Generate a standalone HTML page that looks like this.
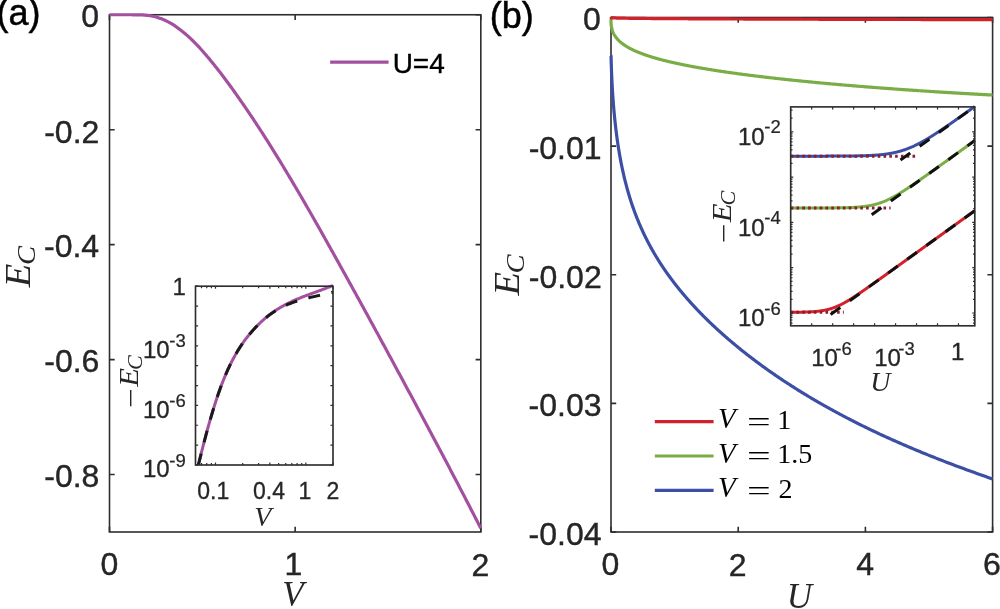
<!DOCTYPE html>
<html><head><meta charset="utf-8"><title>E_C plots</title>
<style>html,body{margin:0;padding:0;background:#fff;overflow:hidden}svg{display:block}</style>
</head><body>
<svg width="1000" height="609" viewBox="0 0 1000 609">
<rect x="0" y="0" width="1000" height="609" fill="#fff"/>
<rect x="109.5" y="14.75" width="371.3" height="517.25" fill="#fff" stroke="#2e2e2e" stroke-width="1.6"/>
<path d="M109.50,532.0 V526.80 M109.50,14.75 V19.95 M295.15,532.0 V526.80 M295.15,14.75 V19.95 M480.80,532.0 V526.80 M480.80,14.75 V19.95 M109.5,14.75 H114.70 M480.8,14.75 H475.60 M109.5,129.69 H114.70 M480.8,129.69 H475.60 M109.5,244.64 H114.70 M480.8,244.64 H475.60 M109.5,359.58 H114.70 M480.8,359.58 H475.60 M109.5,474.53 H114.70 M480.8,474.53 H475.60" stroke="#2e2e2e" stroke-width="1.6" fill="none"/>
<path d="M109.50,14.75 L110.43,14.75 L111.36,14.75 L112.29,14.75 L113.22,14.75 L114.15,14.75 L115.08,14.75 L116.01,14.75 L116.94,14.75 L117.88,14.75 L118.81,14.75 L119.74,14.75 L120.67,14.75 L121.60,14.75 L122.53,14.75 L123.46,14.75 L124.39,14.75 L125.32,14.75 L126.25,14.75 L127.18,14.75 L128.11,14.75 L129.04,14.76 L129.97,14.76 L130.90,14.77 L131.83,14.77 L132.76,14.78 L133.69,14.78 L134.63,14.79 L135.56,14.80 L136.49,14.81 L137.42,14.82 L138.35,14.83 L139.28,14.84 L140.21,14.85 L141.14,14.88 L142.07,14.92 L143.00,14.97 L143.93,15.04 L144.86,15.12 L145.79,15.21 L146.72,15.31 L147.65,15.41 L148.58,15.52 L149.51,15.64 L150.45,15.76 L151.38,15.91 L152.31,16.09 L153.24,16.30 L154.17,16.53 L155.10,16.78 L156.03,17.04 L156.96,17.32 L157.89,17.61 L158.82,17.91 L159.75,18.22 L160.68,18.53 L161.61,18.87 L162.54,19.23 L163.47,19.61 L164.40,20.02 L165.33,20.44 L166.27,20.88 L167.20,21.34 L168.13,21.81 L169.06,22.30 L169.99,22.79 L170.92,23.31 L171.85,23.87 L172.78,24.45 L173.71,25.05 L174.64,25.68 L175.57,26.33 L176.50,27.00 L177.43,27.68 L178.36,28.37 L179.29,29.07 L180.22,29.77 L181.15,30.49 L182.08,31.22 L183.02,31.98 L183.95,32.75 L184.88,33.54 L185.81,34.31 L186.74,35.10 L187.67,35.91 L188.60,36.74 L189.53,37.59 L190.46,38.45 L191.39,39.33 L192.32,40.23 L193.25,41.15 L194.18,42.09 L195.11,43.03 L196.04,43.99 L196.97,44.96 L197.90,45.94 L198.84,46.93 L199.77,47.93 L200.70,48.96 L201.63,50.00 L202.56,51.05 L203.49,52.11 L204.42,53.18 L205.35,54.26 L206.28,55.35 L207.21,56.44 L208.14,57.54 L209.07,58.65 L210.00,59.77 L210.93,60.90 L211.86,62.03 L212.79,63.18 L213.72,64.33 L214.66,65.48 L215.59,66.65 L216.52,67.82 L217.45,69.00 L218.38,70.19 L219.31,71.39 L220.24,72.59 L221.17,73.80 L222.10,75.02 L223.03,76.24 L223.96,77.47 L224.89,78.71 L225.82,79.95 L226.75,81.20 L227.68,82.46 L228.61,83.73 L229.54,85.00 L230.47,86.28 L231.41,87.56 L232.34,88.85 L233.27,90.15 L234.20,91.45 L235.13,92.76 L236.06,94.08 L236.99,95.40 L237.92,96.73 L238.85,98.06 L239.78,99.40 L240.71,100.73 L241.64,102.06 L242.57,103.40 L243.50,104.74 L244.43,106.09 L245.36,107.44 L246.29,108.80 L247.23,110.17 L248.16,111.54 L249.09,112.91 L250.02,114.30 L250.95,115.68 L251.88,117.07 L252.81,118.47 L253.74,119.87 L254.67,121.28 L255.60,122.69 L256.53,124.10 L257.46,125.52 L258.39,126.95 L259.32,128.38 L260.25,129.81 L261.18,131.25 L262.11,132.70 L263.05,134.14 L263.98,135.60 L264.91,137.05 L265.84,138.52 L266.77,139.98 L267.70,141.45 L268.63,142.93 L269.56,144.40 L270.49,145.89 L271.42,147.37 L272.35,148.86 L273.28,150.36 L274.21,151.86 L275.14,153.36 L276.07,154.86 L277.00,156.37 L277.93,157.89 L278.86,159.40 L279.80,160.92 L280.73,162.45 L281.66,163.98 L282.59,165.51 L283.52,167.04 L284.45,168.58 L285.38,170.12 L286.31,171.67 L287.24,173.21 L288.17,174.76 L289.10,176.32 L290.03,177.87 L290.96,179.44 L291.89,181.00 L292.82,182.56 L293.75,184.13 L294.68,185.71 L295.62,187.28 L296.55,188.86 L297.48,190.44 L298.41,192.02 L299.34,193.61 L300.27,195.20 L301.20,196.80 L302.13,198.40 L303.06,200.01 L303.99,201.62 L304.92,203.23 L305.85,204.84 L306.78,206.45 L307.71,208.07 L308.64,209.69 L309.57,211.31 L310.50,212.94 L311.44,214.56 L312.37,216.19 L313.30,217.82 L314.23,219.46 L315.16,221.09 L316.09,222.73 L317.02,224.37 L317.95,226.01 L318.88,227.65 L319.81,229.30 L320.74,230.94 L321.67,232.59 L322.60,234.24 L323.53,235.90 L324.46,237.55 L325.39,239.21 L326.32,240.87 L327.25,242.53 L328.19,244.19 L329.12,245.85 L330.05,247.51 L330.98,249.18 L331.91,250.85 L332.84,252.52 L333.77,254.19 L334.70,255.86 L335.63,257.54 L336.56,259.21 L337.49,260.89 L338.42,262.57 L339.35,264.25 L340.28,265.93 L341.21,267.60 L342.14,269.27 L343.07,270.94 L344.01,272.62 L344.94,274.29 L345.87,275.97 L346.80,277.65 L347.73,279.33 L348.66,281.01 L349.59,282.69 L350.52,284.37 L351.45,286.06 L352.38,287.74 L353.31,289.43 L354.24,291.12 L355.17,292.81 L356.10,294.50 L357.03,296.19 L357.96,297.88 L358.89,299.57 L359.83,301.26 L360.76,302.96 L361.69,304.65 L362.62,306.35 L363.55,308.05 L364.48,309.75 L365.41,311.44 L366.34,313.14 L367.27,314.85 L368.20,316.55 L369.13,318.25 L370.06,319.95 L370.99,321.66 L371.92,323.36 L372.85,325.07 L373.78,326.77 L374.71,328.48 L375.64,330.19 L376.58,331.90 L377.51,333.61 L378.44,335.32 L379.37,337.03 L380.30,338.74 L381.23,340.45 L382.16,342.17 L383.09,343.88 L384.02,345.59 L384.95,347.31 L385.88,349.03 L386.81,350.74 L387.74,352.46 L388.67,354.18 L389.60,355.90 L390.53,357.61 L391.46,359.33 L392.40,361.05 L393.33,362.78 L394.26,364.50 L395.19,366.22 L396.12,367.94 L397.05,369.67 L397.98,371.39 L398.91,373.12 L399.84,374.84 L400.77,376.57 L401.70,378.29 L402.63,380.02 L403.56,381.75 L404.49,383.48 L405.42,385.21 L406.35,386.94 L407.28,388.67 L408.22,390.40 L409.15,392.13 L410.08,393.87 L411.01,395.60 L411.94,397.33 L412.87,399.07 L413.80,400.80 L414.73,402.54 L415.66,404.28 L416.59,406.01 L417.52,407.75 L418.45,409.49 L419.38,411.23 L420.31,412.97 L421.24,414.71 L422.17,416.46 L423.10,418.20 L424.03,419.94 L424.97,421.69 L425.90,423.43 L426.83,425.18 L427.76,426.92 L428.69,428.67 L429.62,430.42 L430.55,432.17 L431.48,433.92 L432.41,435.67 L433.34,437.42 L434.27,439.17 L435.20,440.93 L436.13,442.68 L437.06,444.44 L437.99,446.19 L438.92,447.95 L439.85,449.71 L440.79,451.47 L441.72,453.23 L442.65,454.99 L443.58,456.75 L444.51,458.51 L445.44,460.28 L446.37,462.04 L447.30,463.81 L448.23,465.58 L449.16,467.35 L450.09,469.12 L451.02,470.89 L451.95,472.66 L452.88,474.43 L453.81,476.21 L454.74,477.99 L455.67,479.76 L456.61,481.54 L457.54,483.32 L458.47,485.10 L459.40,486.89 L460.33,488.67 L461.26,490.46 L462.19,492.24 L463.12,494.03 L464.05,495.82 L464.98,497.61 L465.91,499.41 L466.84,501.20 L467.77,503.00 L468.70,504.80 L469.63,506.60 L470.56,508.40 L471.49,510.20 L472.42,512.01 L473.36,513.81 L474.29,515.62 L475.22,517.43 L476.15,519.24 L477.08,521.06 L478.01,522.87 L478.94,524.69 L479.87,526.51 L480.80,528.33" stroke="#a2509f" stroke-width="3.2" fill="none" stroke-linejoin="round"/>
<path d="M330.1,62.1 H388.6" stroke="#a2509f" stroke-width="3.2"/>
<rect x="195.5" y="286.2" width="137.50" height="178.80" fill="#fff" stroke="none"/>
<defs><clipPath id="cia"><rect x="195.5" y="284.2" width="139.50" height="180.80"/></clipPath></defs>
<g clip-path="url(#cia)"><path d="M198.30,465.23 L198.87,462.90 L199.43,460.59 L199.99,458.30 L200.56,456.02 L201.12,453.75 L201.68,451.51 L202.25,449.28 L202.81,447.07 L203.37,444.87 L203.94,442.70 L204.50,440.54 L205.07,438.40 L205.63,436.28 L206.19,434.17 L206.76,432.09 L207.32,430.02 L207.88,427.98 L208.45,425.95 L209.01,423.95 L209.57,421.96 L210.14,419.99 L210.70,418.05 L211.26,416.13 L211.83,414.22 L212.39,412.34 L212.95,410.48 L213.52,408.64 L214.08,406.82 L214.65,405.03 L215.21,403.26 L215.77,401.51 L216.34,399.78 L216.90,398.08 L217.46,396.40 L218.03,394.74 L218.59,393.11 L219.15,391.50 L219.72,389.92 L220.28,388.36 L220.84,386.82 L221.41,385.31 L221.97,383.82 L222.53,382.36 L223.10,380.92 L223.66,379.51 L224.22,378.12 L224.79,376.75 L225.35,375.40 L225.92,374.08 L226.48,372.77 L227.04,371.49 L227.61,370.23 L228.17,368.99 L228.73,367.77 L229.30,366.58 L229.86,365.40 L230.42,364.24 L230.99,363.10 L231.55,361.98 L232.11,360.87 L232.68,359.79 L233.24,358.72 L233.80,357.68 L234.37,356.65 L234.93,355.63 L235.50,354.63 L236.06,353.65 L236.62,352.69 L237.19,351.74 L237.75,350.81 L238.31,349.89 L238.88,348.98 L239.44,348.09 L240.00,347.22 L240.57,346.36 L241.13,345.51 L241.69,344.68 L242.26,343.85 L242.82,343.04 L243.38,342.25 L243.95,341.46 L244.51,340.69 L245.07,339.93 L245.64,339.18 L246.20,338.44 L246.77,337.71 L247.33,336.99 L247.89,336.28 L248.46,335.57 L249.02,334.88 L249.58,334.20 L250.15,333.52 L250.71,332.86 L251.27,332.20 L251.84,331.55 L252.40,330.91 L252.96,330.27 L253.53,329.65 L254.09,329.03 L254.65,328.42 L255.22,327.81 L255.78,327.22 L256.35,326.63 L256.91,326.05 L257.47,325.47 L258.04,324.91 L258.60,324.35 L259.16,323.79 L259.73,323.25 L260.29,322.71 L260.85,322.18 L261.42,321.66 L261.98,321.14 L262.54,320.63 L263.11,320.12 L263.67,319.63 L264.23,319.13 L264.80,318.65 L265.36,318.17 L265.92,317.70 L266.49,317.23 L267.05,316.77 L267.62,316.32 L268.18,315.87 L268.74,315.43 L269.31,314.99 L269.87,314.56 L270.43,314.14 L271.00,313.72 L271.56,313.30 L272.12,312.89 L272.69,312.49 L273.25,312.09 L273.81,311.70 L274.38,311.31 L274.94,310.93 L275.50,310.56 L276.07,310.18 L276.63,309.82 L277.20,309.45 L277.76,309.10 L278.32,308.74 L278.89,308.39 L279.45,308.05 L280.01,307.71 L280.58,307.38 L281.14,307.05 L281.70,306.72 L282.27,306.40 L282.83,306.08 L283.39,305.76 L283.96,305.45 L284.52,305.15 L285.08,304.84 L285.65,304.55 L286.21,304.25 L286.77,303.96 L287.34,303.67 L287.90,303.39 L288.47,303.10 L289.03,302.83 L289.59,302.55 L290.16,302.28 L290.72,302.01 L291.28,301.75 L291.85,301.48 L292.41,301.22 L292.97,300.97 L293.54,300.71 L294.10,300.46 L294.66,300.21 L295.23,299.96 L295.79,299.72 L296.35,299.48 L296.92,299.24 L297.48,299.00 L298.05,298.76 L298.61,298.53 L299.17,298.30 L299.74,298.07 L300.30,297.84 L300.86,297.62 L301.43,297.39 L301.99,297.17 L302.55,296.95 L303.12,296.73 L303.68,296.51 L304.24,296.30 L304.81,296.08 L305.37,295.87 L305.93,295.65 L306.50,295.44 L307.06,295.23 L307.62,295.02 L308.19,294.81 L308.75,294.60 L309.32,294.40 L309.88,294.19 L310.44,293.98 L311.01,293.78 L311.57,293.57 L312.13,293.37 L312.70,293.16 L313.26,292.96 L313.82,292.75 L314.39,292.55 L314.95,292.34 L315.51,292.14 L316.08,291.93 L316.64,291.73 L317.20,291.52 L317.77,291.31 L318.33,291.11 L318.90,290.90 L319.46,290.69 L320.02,290.48 L320.59,290.27 L321.15,290.06 L321.71,289.85 L322.28,289.64 L322.84,289.43 L323.40,289.21 L323.97,289.00 L324.53,288.78 L325.09,288.57 L325.66,288.35 L326.22,288.13 L326.78,287.90 L327.35,287.68 L327.91,287.45 L328.47,287.23 L329.04,287.00 L329.60,286.77 L330.17,286.53 L330.73,286.30 L331.29,286.06 L331.86,285.82 L332.42,285.58 L332.98,285.34" stroke="#a2509f" stroke-width="3" fill="none"/>
<path d="M198.30,465.23 L198.87,462.90 L199.43,460.59 L199.99,458.30 L200.56,456.02 L201.12,453.75 L201.68,451.51 L202.25,449.28 L202.81,447.07 L203.37,444.87 L203.94,442.70 L204.50,440.54 L205.07,438.40 L205.63,436.28 L206.19,434.17 L206.76,432.09 L207.32,430.02 L207.88,427.98 L208.45,425.95 L209.01,423.95 L209.57,421.96 L210.14,419.99 L210.70,418.05 L211.26,416.13 L211.83,414.22 L212.39,412.34 L212.95,410.48 L213.52,408.64 L214.08,406.82 L214.65,405.03 L215.21,403.26 L215.77,401.51 L216.34,399.78 L216.90,398.08 L217.46,396.40 L218.03,394.74 L218.59,393.11 L219.15,391.50 L219.72,389.92 L220.28,388.36 L220.84,386.82 L221.41,385.31 L221.97,383.82 L222.53,382.36 L223.10,380.92 L223.66,379.51 L224.22,378.12 L224.79,376.75 L225.35,375.40 L225.92,374.08 L226.48,372.77 L227.04,371.49 L227.61,370.23 L228.17,368.99 L228.73,367.77 L229.30,366.58 L229.86,365.40 L230.42,364.24 L230.99,363.10 L231.55,361.98 L232.11,360.87 L232.68,359.79 L233.24,358.72 L233.80,357.68 L234.37,356.65 L234.93,355.63 L235.50,354.63 L236.06,353.65 L236.62,352.69 L237.19,351.74 L237.75,350.81 L238.31,349.89 L238.88,348.98 L239.44,348.09 L240.00,347.22 L240.57,346.36 L241.13,345.51 L241.69,344.68 L242.26,343.85 L242.82,343.04 L243.38,342.25 L243.95,341.46 L244.51,340.69 L245.07,339.93 L245.64,339.18 L246.20,338.44 L246.77,337.71 L247.33,336.99 L247.89,336.28 L248.46,335.57 L249.02,334.88 L249.58,334.20 L250.15,333.52 L250.71,332.86 L251.27,332.20 L251.84,331.55 L252.40,330.91 L252.96,330.27 L253.53,329.65 L254.09,329.03 L254.65,328.42 L255.22,327.81 L255.78,327.22 L256.35,326.63 L256.91,326.05 L257.47,325.47 L258.04,324.91 L258.60,324.35 L259.16,323.79 L259.73,323.25 L260.29,322.71 L260.85,322.18 L261.42,321.66 L261.98,321.14 L262.54,320.63 L263.11,320.12 L263.67,319.63 L264.23,319.13 L264.80,318.65 L265.36,318.17 L265.92,317.70 L266.49,317.24 L267.05,316.79 L267.62,316.34 L268.18,315.90 L268.74,315.47 L269.31,315.05 L269.87,314.63 L270.43,314.22 L271.00,313.82 L271.56,313.43 L272.12,313.04 L272.69,312.65 L273.25,312.28 L273.81,311.91 L274.38,311.54 L274.94,311.19 L275.50,310.83 L276.07,310.49 L276.63,310.15 L277.20,309.81 L277.76,309.49 L278.32,309.16 L278.89,308.85 L279.45,308.53 L280.01,308.23 L280.58,307.93 L281.14,307.63 L281.70,307.34 L282.27,307.05 L282.83,306.77 L283.39,306.49 L283.96,306.22 L284.52,305.96 L285.08,305.69 L285.65,305.44 L286.21,305.18 L286.77,304.93 L287.34,304.69 L287.90,304.45 L288.47,304.21 L289.03,303.98 L289.59,303.75 L290.16,303.53 L290.72,303.31 L291.28,303.09 L291.85,302.88 L292.41,302.67 L292.97,302.46 L293.54,302.26 L294.10,302.06 L294.66,301.87 L295.23,301.67 L295.79,301.48 L296.35,301.30 L296.92,301.11 L297.48,300.93 L298.05,300.76 L298.61,300.58 L299.17,300.41 L299.74,300.24 L300.30,300.07 L300.86,299.91 L301.43,299.75 L301.99,299.59 L302.55,299.43 L303.12,299.27 L303.68,299.12 L304.24,298.97 L304.81,298.82 L305.37,298.67 L305.93,298.52 L306.50,298.38 L307.06,298.24 L307.62,298.10 L308.19,297.96 L308.75,297.82 L309.32,297.68 L309.88,297.55 L310.44,297.41 L311.01,297.28 L311.57,297.15 L312.13,297.02 L312.70,296.88 L313.26,296.76 L313.82,296.63 L314.39,296.50 L314.95,296.37 L315.51,296.24 L316.08,296.12 L316.64,295.99 L317.20,295.86 L317.77,295.74 L318.33,295.61 L318.90,295.49 L319.46,295.36 L320.02,295.24 L320.59,295.11 L321.15,294.98 L321.71,294.86 L322.28,294.73 L322.84,294.60 L323.40,294.48 L323.97,294.35 L324.53,294.22 L325.09,294.09 L325.66,293.96 L326.22,293.83 L326.78,293.69 L327.35,293.56 L327.91,293.43 L328.47,293.29 L329.04,293.15 L329.60,293.01 L330.17,292.87 L330.73,292.73 L331.29,292.59 L331.86,292.45 L332.42,292.30 L332.98,292.15" stroke="#1a1a1a" stroke-width="3" fill="none" stroke-dasharray="12 11.6"/></g>
<path d="M195.5,286.20 H198.1 M333.0,286.20 H330.4 M195.5,306.07 H198.1 M333.0,306.07 H330.4 M195.5,325.93 H198.1 M333.0,325.93 H330.4 M195.5,345.80 H198.1 M333.0,345.80 H330.4 M195.5,365.67 H198.1 M333.0,365.67 H330.4 M195.5,385.53 H198.1 M333.0,385.53 H330.4 M195.5,405.40 H198.1 M333.0,405.40 H330.4 M195.5,425.27 H198.1 M333.0,425.27 H330.4 M195.5,445.13 H198.1 M333.0,445.13 H330.4 M195.5,465.00 H198.1 M333.0,465.00 H330.4 M201.51,465.0 V463.05 M201.51,286.2 V288.15 M206.75,465.0 V463.05 M206.75,286.2 V288.15 M211.37,465.0 V463.05 M211.37,286.2 V288.15 M215.50,465.0 V462.40 M215.50,286.2 V288.80 M242.68,465.0 V463.05 M242.68,286.2 V288.15 M258.58,465.0 V463.05 M258.58,286.2 V288.15 M269.87,465.0 V463.05 M269.87,286.2 V288.15 M278.62,465.0 V463.05 M278.62,286.2 V288.15 M285.77,465.0 V463.05 M285.77,286.2 V288.15 M291.81,465.0 V463.05 M291.81,286.2 V288.15 M297.05,465.0 V463.05 M297.05,286.2 V288.15 M301.67,465.0 V463.05 M301.67,286.2 V288.15 M305.80,465.0 V462.40 M305.80,286.2 V288.80 M332.98,465.0 V463.05 M332.98,286.2 V288.15 M269.87,465.0 V462.40 M269.87,286.2 V288.80 M332.98,465.0 V462.40 M332.98,286.2 V288.80" stroke="#2e2e2e" stroke-width="1.2" fill="none"/>
<rect x="195.5" y="286.2" width="137.50" height="178.80" fill="none" stroke="#2e2e2e" stroke-width="1.65"/>
<rect x="611.0" y="17.5" width="381.60" height="514.5" fill="#fff" stroke="#2e2e2e" stroke-width="1.6"/>
<path d="M611.00,532.0 V526.80 M611.00,17.5 V22.70 M738.20,532.0 V526.80 M738.20,17.5 V22.70 M865.40,532.0 V526.80 M865.40,17.5 V22.70 M992.60,532.0 V526.80 M992.60,17.5 V22.70 M611.0,17.50 H616.20 M992.6,17.50 H987.40 M611.0,146.12 H616.20 M992.6,146.12 H987.40 M611.0,274.75 H616.20 M992.6,274.75 H987.40 M611.0,403.37 H616.20 M992.6,403.37 H987.40 M611.0,532.00 H616.20 M992.6,532.00 H987.40" stroke="#2e2e2e" stroke-width="1.6" fill="none"/>
<defs><clipPath id="cb"><rect x="609.0" y="14.5" width="385.60" height="519.5"/></clipPath></defs>
<g clip-path="url(#cb)" fill="none" stroke-width="3.2" stroke-linejoin="round">
<path d="M611.00,55.90 L611.00,55.90 L611.00,55.90 L611.00,55.90 L611.00,55.90 L611.00,55.90 L611.00,55.90 L611.00,55.90 L611.00,55.90 L611.00,55.90 L611.00,55.90 L611.00,55.90 L611.01,55.90 L611.01,55.90 L611.01,55.90 L611.01,55.90 L611.01,55.90 L611.02,55.90 L611.02,55.90 L611.02,55.90 L611.02,55.90 L611.03,55.90 L611.03,55.90 L611.04,55.90 L611.04,55.90 L611.05,55.90 L611.05,55.90 L611.06,55.90 L611.07,56.08 L611.07,56.42 L611.08,56.78 L611.09,57.16 L611.10,57.56 L611.11,57.97 L611.12,58.40 L611.13,58.85 L611.14,59.32 L611.16,59.80 L611.17,60.30 L611.18,60.81 L611.20,61.34 L611.21,61.89 L611.23,62.45 L611.24,63.02 L611.26,63.61 L611.28,64.22 L611.30,64.84 L611.32,65.47 L611.34,66.11 L611.36,66.77 L611.38,67.44 L611.41,68.12 L611.43,68.81 L611.46,69.52 L611.48,70.24 L611.51,70.97 L611.54,71.71 L611.57,72.46 L611.60,73.22 L611.63,73.99 L611.66,74.77 L611.70,75.56 L611.73,76.36 L611.77,77.17 L611.81,77.99 L611.84,78.82 L611.88,79.66 L611.92,80.50 L611.97,81.36 L612.01,82.22 L612.05,83.09 L612.10,83.96 L612.15,84.85 L612.19,85.74 L612.24,86.64 L612.30,87.54 L612.35,88.45 L612.40,89.37 L612.46,90.30 L612.51,91.23 L612.57,92.16 L612.63,93.10 L612.69,94.05 L612.76,95.00 L612.82,95.96 L612.89,96.92 L612.95,97.89 L613.02,98.86 L613.09,99.84 L613.17,100.82 L613.24,101.80 L613.31,102.79 L613.39,103.79 L613.47,104.78 L613.55,105.78 L613.63,106.79 L613.72,107.79 L613.80,108.80 L613.89,109.81 L613.98,110.83 L614.07,111.85 L614.16,112.87 L614.26,113.89 L614.36,114.92 L614.45,115.95 L614.56,116.98 L614.66,118.01 L614.76,119.05 L614.87,120.08 L614.98,121.12 L615.09,122.16 L615.20,123.20 L615.31,124.25 L615.43,125.29 L615.55,126.33 L615.67,127.38 L615.79,128.43 L615.92,129.48 L616.05,130.53 L616.18,131.58 L616.31,132.63 L616.44,133.68 L616.58,134.73 L616.72,135.78 L616.86,136.84 L617.00,137.89 L617.14,138.94 L617.29,140.00 L617.44,141.05 L617.59,142.10 L617.75,143.16 L617.90,144.21 L618.06,145.26 L618.23,146.32 L618.39,147.37 L618.56,148.42 L618.73,149.47 L618.90,150.52 L619.07,151.58 L619.25,152.63 L619.43,153.68 L619.61,154.72 L619.79,155.77 L619.98,156.82 L620.17,157.87 L620.36,158.91 L620.56,159.96 L620.76,161.00 L620.96,162.05 L621.16,163.09 L621.37,164.13 L621.57,165.17 L621.79,166.21 L622.00,167.25 L622.22,168.28 L622.44,169.32 L622.66,170.35 L622.89,171.39 L623.11,172.42 L623.35,173.45 L623.58,174.48 L623.82,175.51 L624.06,176.53 L624.30,177.56 L624.55,178.58 L624.80,179.60 L625.05,180.62 L625.30,181.64 L625.56,182.66 L625.82,183.68 L626.09,184.69 L626.36,185.71 L626.63,186.72 L626.90,187.73 L627.18,188.74 L627.46,189.74 L627.74,190.75 L628.03,191.75 L628.32,192.76 L628.61,193.76 L628.91,194.76 L629.21,195.76 L629.51,196.75 L629.82,197.75 L630.13,198.74 L630.45,199.73 L630.76,200.72 L631.08,201.71 L631.41,202.70 L631.73,203.68 L632.07,204.67 L632.40,205.65 L632.74,206.63 L633.08,207.61 L633.42,208.58 L633.77,209.56 L634.12,210.53 L634.48,211.51 L634.84,212.48 L635.20,213.45 L635.57,214.42 L635.94,215.38 L636.31,216.35 L636.69,217.31 L637.07,218.27 L637.46,219.23 L637.85,220.19 L638.24,221.15 L638.64,222.11 L639.04,223.06 L639.44,224.01 L639.85,224.97 L640.26,225.92 L640.68,226.87 L641.10,227.81 L641.52,228.76 L641.95,229.71 L642.38,230.65 L642.82,231.59 L643.26,232.53 L643.70,233.47 L644.15,234.41 L644.60,235.35 L645.06,236.29 L645.52,237.22 L645.98,238.16 L646.45,239.09 L646.92,240.02 L647.40,240.95 L647.88,241.88 L648.37,242.81 L648.86,243.74 L649.35,244.66 L649.85,245.59 L650.35,246.51 L650.86,247.44 L651.37,248.36 L651.88,249.28 L652.40,250.20 L652.93,251.12 L653.46,252.04 L653.99,252.96 L654.53,253.87 L655.07,254.79 L655.61,255.70 L656.17,256.62 L656.72,257.53 L657.28,258.44 L657.84,259.36 L658.41,260.27 L658.99,261.18 L659.57,262.09 L660.15,263.00 L660.74,263.90 L661.33,264.81 L661.92,265.72 L662.53,266.63 L663.13,267.53 L663.74,268.44 L664.36,269.34 L664.98,270.25 L665.60,271.15 L666.23,272.05 L666.87,272.96 L667.51,273.86 L668.15,274.76 L668.80,275.66 L669.46,276.56 L670.12,277.46 L670.78,278.36 L671.45,279.26 L672.12,280.16 L672.80,281.06 L673.49,281.96 L674.18,282.86 L674.87,283.76 L675.57,284.66 L676.27,285.55 L676.98,286.45 L677.70,287.35 L678.42,288.24 L679.14,289.14 L679.87,290.04 L680.61,290.93 L681.35,291.83 L682.10,292.73 L682.85,293.62 L683.60,294.52 L684.36,295.41 L685.13,296.31 L685.90,297.21 L686.68,298.10 L687.46,299.00 L688.25,299.89 L689.05,300.79 L689.84,301.68 L690.65,302.58 L691.46,303.47 L692.27,304.37 L693.10,305.26 L693.92,306.16 L694.75,307.05 L695.59,307.95 L696.43,308.85 L697.28,309.74 L698.14,310.64 L699.00,311.53 L699.86,312.43 L700.73,313.32 L701.61,314.22 L702.49,315.12 L703.38,316.01 L704.28,316.91 L705.18,317.80 L706.08,318.70 L706.99,319.60 L707.91,320.49 L708.83,321.39 L709.76,322.29 L710.70,323.18 L711.64,324.08 L712.58,324.98 L713.54,325.87 L714.49,326.77 L715.46,327.67 L716.43,328.57 L717.40,329.46 L718.39,330.36 L719.37,331.26 L720.37,332.16 L721.37,333.06 L722.38,333.95 L723.39,334.85 L724.41,335.75 L725.43,336.65 L726.46,337.55 L727.50,338.45 L728.54,339.35 L729.59,340.25 L730.65,341.15 L731.71,342.05 L732.78,342.95 L733.85,343.84 L734.93,344.74 L736.02,345.64 L737.11,346.54 L738.21,347.44 L739.32,348.34 L740.43,349.24 L741.55,350.14 L742.68,351.04 L743.81,351.94 L744.95,352.84 L746.09,353.74 L747.24,354.64 L748.40,355.54 L749.57,356.44 L750.74,357.35 L751.91,358.25 L753.10,359.15 L754.29,360.05 L755.49,360.95 L756.69,361.85 L757.90,362.74 L759.12,363.64 L760.34,364.54 L761.57,365.44 L762.81,366.34 L764.06,367.24 L765.31,368.14 L766.57,369.04 L767.83,369.94 L769.10,370.84 L770.38,371.74 L771.67,372.63 L772.96,373.53 L774.26,374.43 L775.56,375.33 L776.88,376.22 L778.20,377.12 L779.52,378.02 L780.86,378.91 L782.20,379.81 L783.55,380.71 L784.90,381.60 L786.26,382.50 L787.63,383.39 L789.01,384.28 L790.39,385.18 L791.78,386.07 L793.18,386.96 L794.58,387.86 L796.00,388.75 L797.42,389.64 L798.84,390.53 L800.28,391.42 L801.72,392.31 L803.17,393.20 L804.62,394.09 L806.09,394.98 L807.56,395.86 L809.03,396.75 L810.52,397.64 L812.01,398.52 L813.51,399.41 L815.02,400.29 L816.53,401.17 L818.06,402.06 L819.59,402.94 L821.12,403.82 L822.67,404.70 L824.22,405.58 L825.78,406.46 L827.35,407.34 L828.93,408.21 L830.51,409.09 L832.10,409.97 L833.70,410.84 L835.30,411.71 L836.92,412.59 L838.54,413.46 L840.17,414.33 L841.80,415.20 L843.45,416.07 L845.10,416.94 L846.76,417.81 L848.43,418.67 L850.11,419.54 L851.79,420.40 L853.48,421.26 L855.18,422.13 L856.89,422.99 L858.60,423.85 L860.33,424.71 L862.06,425.57 L863.80,426.42 L865.55,427.28 L867.30,428.13 L869.06,428.99 L870.84,429.84 L872.62,430.69 L874.40,431.54 L876.20,432.39 L878.00,433.24 L879.82,434.08 L881.64,434.93 L883.47,435.77 L885.30,436.62 L887.15,437.46 L889.00,438.30 L890.86,439.14 L892.73,439.98 L894.61,440.82 L896.50,441.65 L898.39,442.49 L900.29,443.32 L902.21,444.15 L904.13,444.99 L906.06,445.82 L907.99,446.64 L909.94,447.47 L911.89,448.30 L913.85,449.12 L915.82,449.95 L917.80,450.77 L919.79,451.59 L921.79,452.42 L923.79,453.24 L925.81,454.05 L927.83,454.87 L929.86,455.69 L931.90,456.50 L933.95,457.32 L936.01,458.13 L938.07,458.94 L940.15,459.76 L942.23,460.57 L944.32,461.37 L946.42,462.18 L948.53,462.99 L950.65,463.80 L952.78,464.60 L954.91,465.41 L957.06,466.21 L959.21,467.01 L961.37,467.82 L963.55,468.62 L965.73,469.42 L967.92,470.22 L970.11,471.02 L972.32,471.82 L974.54,472.61 L976.76,473.41 L979.00,474.21 L981.24,475.01 L983.50,475.80 L985.76,476.60 L988.03,477.39 L990.31,478.19 L992.60,478.98" stroke="#3c4fa5"/>
<path d="M611.00,19.20 L611.00,19.32 L611.00,19.45 L611.00,19.58 L611.00,19.70 L611.00,19.83 L611.00,19.96 L611.00,20.09 L611.00,20.22 L611.00,20.36 L611.00,20.49 L611.00,20.62 L611.01,20.76 L611.01,20.89 L611.01,21.03 L611.01,21.16 L611.01,21.30 L611.02,21.44 L611.02,21.58 L611.02,21.72 L611.02,21.86 L611.03,22.00 L611.03,22.14 L611.04,22.28 L611.04,22.42 L611.05,22.57 L611.05,22.71 L611.06,22.85 L611.07,23.00 L611.07,23.14 L611.08,23.29 L611.09,23.44 L611.10,23.58 L611.11,23.73 L611.12,23.88 L611.13,24.03 L611.14,24.18 L611.16,24.33 L611.17,24.48 L611.18,24.63 L611.20,24.78 L611.21,24.93 L611.23,25.08 L611.24,25.23 L611.26,25.39 L611.28,25.54 L611.30,25.69 L611.32,25.85 L611.34,26.00 L611.36,26.16 L611.38,26.31 L611.41,26.47 L611.43,26.62 L611.46,26.78 L611.48,26.94 L611.51,27.09 L611.54,27.25 L611.57,27.41 L611.60,27.57 L611.63,27.73 L611.66,27.88 L611.70,28.04 L611.73,28.20 L611.77,28.36 L611.81,28.52 L611.84,28.68 L611.88,28.84 L611.92,29.01 L611.97,29.17 L612.01,29.33 L612.05,29.49 L612.10,29.65 L612.15,29.81 L612.19,29.98 L612.24,30.14 L612.30,30.30 L612.35,30.47 L612.40,30.63 L612.46,30.79 L612.51,30.96 L612.57,31.12 L612.63,31.28 L612.69,31.45 L612.76,31.61 L612.82,31.78 L612.89,31.94 L612.95,32.11 L613.02,32.27 L613.09,32.44 L613.17,32.60 L613.24,32.77 L613.31,32.94 L613.39,33.10 L613.47,33.27 L613.55,33.43 L613.63,33.60 L613.72,33.77 L613.80,33.93 L613.89,34.10 L613.98,34.27 L614.07,34.43 L614.16,34.60 L614.26,34.77 L614.36,34.94 L614.45,35.10 L614.56,35.27 L614.66,35.44 L614.76,35.61 L614.87,35.77 L614.98,35.94 L615.09,36.11 L615.20,36.28 L615.31,36.44 L615.43,36.61 L615.55,36.78 L615.67,36.95 L615.79,37.12 L615.92,37.28 L616.05,37.45 L616.18,37.62 L616.31,37.79 L616.44,37.96 L616.58,38.12 L616.72,38.29 L616.86,38.46 L617.00,38.63 L617.14,38.80 L617.29,38.96 L617.44,39.13 L617.59,39.30 L617.75,39.47 L617.90,39.64 L618.06,39.81 L618.23,39.97 L618.39,40.14 L618.56,40.31 L618.73,40.48 L618.90,40.65 L619.07,40.81 L619.25,40.98 L619.43,41.15 L619.61,41.32 L619.79,41.49 L619.98,41.65 L620.17,41.82 L620.36,41.99 L620.56,42.16 L620.76,42.32 L620.96,42.49 L621.16,42.66 L621.37,42.83 L621.57,42.99 L621.79,43.16 L622.00,43.33 L622.22,43.50 L622.44,43.66 L622.66,43.83 L622.89,44.00 L623.11,44.16 L623.35,44.33 L623.58,44.50 L623.82,44.66 L624.06,44.83 L624.30,45.00 L624.55,45.16 L624.80,45.33 L625.05,45.50 L625.30,45.66 L625.56,45.83 L625.82,45.99 L626.09,46.16 L626.36,46.33 L626.63,46.49 L626.90,46.66 L627.18,46.82 L627.46,46.99 L627.74,47.15 L628.03,47.32 L628.32,47.49 L628.61,47.65 L628.91,47.82 L629.21,47.98 L629.51,48.14 L629.82,48.31 L630.13,48.47 L630.45,48.64 L630.76,48.80 L631.08,48.97 L631.41,49.13 L631.73,49.30 L632.07,49.46 L632.40,49.62 L632.74,49.79 L633.08,49.95 L633.42,50.11 L633.77,50.28 L634.12,50.44 L634.48,50.60 L634.84,50.77 L635.20,50.93 L635.57,51.09 L635.94,51.26 L636.31,51.42 L636.69,51.58 L637.07,51.74 L637.46,51.91 L637.85,52.07 L638.24,52.23 L638.64,52.39 L639.04,52.55 L639.44,52.71 L639.85,52.88 L640.26,53.04 L640.68,53.20 L641.10,53.36 L641.52,53.52 L641.95,53.68 L642.38,53.84 L642.82,54.00 L643.26,54.16 L643.70,54.32 L644.15,54.49 L644.60,54.65 L645.06,54.81 L645.52,54.97 L645.98,55.13 L646.45,55.29 L646.92,55.45 L647.40,55.60 L647.88,55.76 L648.37,55.92 L648.86,56.08 L649.35,56.24 L649.85,56.40 L650.35,56.56 L650.86,56.72 L651.37,56.88 L651.88,57.04 L652.40,57.19 L652.93,57.35 L653.46,57.51 L653.99,57.67 L654.53,57.83 L655.07,57.98 L655.61,58.14 L656.17,58.30 L656.72,58.46 L657.28,58.61 L657.84,58.77 L658.41,58.93 L658.99,59.09 L659.57,59.24 L660.15,59.40 L660.74,59.56 L661.33,59.71 L661.92,59.87 L662.53,60.03 L663.13,60.18 L663.74,60.34 L664.36,60.50 L664.98,60.65 L665.60,60.81 L666.23,60.96 L666.87,61.12 L667.51,61.27 L668.15,61.43 L668.80,61.59 L669.46,61.74 L670.12,61.90 L670.78,62.05 L671.45,62.21 L672.12,62.36 L672.80,62.52 L673.49,62.67 L674.18,62.82 L674.87,62.98 L675.57,63.13 L676.27,63.29 L676.98,63.44 L677.70,63.60 L678.42,63.75 L679.14,63.90 L679.87,64.06 L680.61,64.21 L681.35,64.37 L682.10,64.52 L682.85,64.67 L683.60,64.83 L684.36,64.98 L685.13,65.13 L685.90,65.29 L686.68,65.44 L687.46,65.59 L688.25,65.75 L689.05,65.90 L689.84,66.05 L690.65,66.20 L691.46,66.36 L692.27,66.51 L693.10,66.66 L693.92,66.81 L694.75,66.97 L695.59,67.12 L696.43,67.27 L697.28,67.42 L698.14,67.57 L699.00,67.73 L699.86,67.88 L700.73,68.03 L701.61,68.18 L702.49,68.33 L703.38,68.48 L704.28,68.63 L705.18,68.79 L706.08,68.94 L706.99,69.09 L707.91,69.24 L708.83,69.39 L709.76,69.54 L710.70,69.69 L711.64,69.84 L712.58,69.99 L713.54,70.14 L714.49,70.30 L715.46,70.45 L716.43,70.60 L717.40,70.75 L718.39,70.90 L719.37,71.05 L720.37,71.20 L721.37,71.35 L722.38,71.50 L723.39,71.65 L724.41,71.80 L725.43,71.95 L726.46,72.10 L727.50,72.25 L728.54,72.40 L729.59,72.55 L730.65,72.70 L731.71,72.84 L732.78,72.99 L733.85,73.14 L734.93,73.29 L736.02,73.44 L737.11,73.59 L738.21,73.74 L739.32,73.89 L740.43,74.04 L741.55,74.19 L742.68,74.34 L743.81,74.48 L744.95,74.63 L746.09,74.78 L747.24,74.93 L748.40,75.08 L749.57,75.23 L750.74,75.37 L751.91,75.52 L753.10,75.67 L754.29,75.82 L755.49,75.97 L756.69,76.11 L757.90,76.26 L759.12,76.41 L760.34,76.56 L761.57,76.71 L762.81,76.85 L764.06,77.00 L765.31,77.15 L766.57,77.30 L767.83,77.44 L769.10,77.59 L770.38,77.74 L771.67,77.88 L772.96,78.03 L774.26,78.18 L775.56,78.32 L776.88,78.47 L778.20,78.62 L779.52,78.76 L780.86,78.91 L782.20,79.06 L783.55,79.20 L784.90,79.35 L786.26,79.50 L787.63,79.64 L789.01,79.79 L790.39,79.93 L791.78,80.08 L793.18,80.22 L794.58,80.37 L796.00,80.52 L797.42,80.66 L798.84,80.81 L800.28,80.95 L801.72,81.10 L803.17,81.24 L804.62,81.39 L806.09,81.53 L807.56,81.68 L809.03,81.82 L810.52,81.96 L812.01,82.11 L813.51,82.25 L815.02,82.40 L816.53,82.54 L818.06,82.68 L819.59,82.83 L821.12,82.97 L822.67,83.12 L824.22,83.26 L825.78,83.40 L827.35,83.54 L828.93,83.69 L830.51,83.83 L832.10,83.97 L833.70,84.12 L835.30,84.26 L836.92,84.40 L838.54,84.54 L840.17,84.68 L841.80,84.83 L843.45,84.97 L845.10,85.11 L846.76,85.25 L848.43,85.39 L850.11,85.53 L851.79,85.67 L853.48,85.81 L855.18,85.95 L856.89,86.09 L858.60,86.23 L860.33,86.37 L862.06,86.51 L863.80,86.65 L865.55,86.79 L867.30,86.93 L869.06,87.07 L870.84,87.21 L872.62,87.35 L874.40,87.49 L876.20,87.63 L878.00,87.76 L879.82,87.90 L881.64,88.04 L883.47,88.18 L885.30,88.31 L887.15,88.45 L889.00,88.59 L890.86,88.72 L892.73,88.86 L894.61,88.99 L896.50,89.13 L898.39,89.27 L900.29,89.40 L902.21,89.54 L904.13,89.67 L906.06,89.80 L907.99,89.94 L909.94,90.07 L911.89,90.21 L913.85,90.34 L915.82,90.47 L917.80,90.60 L919.79,90.74 L921.79,90.87 L923.79,91.00 L925.81,91.13 L927.83,91.26 L929.86,91.39 L931.90,91.52 L933.95,91.65 L936.01,91.78 L938.07,91.91 L940.15,92.04 L942.23,92.17 L944.32,92.30 L946.42,92.43 L948.53,92.55 L950.65,92.68 L952.78,92.81 L954.91,92.93 L957.06,93.06 L959.21,93.19 L961.37,93.31 L963.55,93.44 L965.73,93.56 L967.92,93.68 L970.11,93.81 L972.32,93.93 L974.54,94.05 L976.76,94.17 L979.00,94.30 L981.24,94.42 L983.50,94.54 L985.76,94.66 L988.03,94.78 L990.31,94.90 L992.60,95.02" stroke="#7bad47"/>
<path d="M611.00,17.51 L611.00,17.51 L611.00,17.52 L611.00,17.52 L611.00,17.52 L611.00,17.53 L611.00,17.53 L611.00,17.53 L611.00,17.54 L611.00,17.54 L611.00,17.55 L611.00,17.55 L611.01,17.55 L611.01,17.56 L611.01,17.56 L611.01,17.57 L611.01,17.57 L611.02,17.58 L611.02,17.58 L611.02,17.58 L611.02,17.59 L611.03,17.59 L611.03,17.60 L611.04,17.60 L611.04,17.61 L611.05,17.61 L611.05,17.61 L611.06,17.62 L611.07,17.62 L611.07,17.63 L611.08,17.63 L611.09,17.64 L611.10,17.64 L611.11,17.64 L611.12,17.65 L611.13,17.65 L611.14,17.66 L611.16,17.66 L611.17,17.67 L611.18,17.67 L611.20,17.67 L611.21,17.68 L611.23,17.68 L611.24,17.69 L611.26,17.69 L611.28,17.70 L611.30,17.70 L611.32,17.70 L611.34,17.71 L611.36,17.71 L611.38,17.72 L611.41,17.72 L611.43,17.73 L611.46,17.73 L611.48,17.74 L611.51,17.74 L611.54,17.74 L611.57,17.75 L611.60,17.75 L611.63,17.76 L611.66,17.76 L611.70,17.77 L611.73,17.77 L611.77,17.77 L611.81,17.78 L611.84,17.78 L611.88,17.79 L611.92,17.79 L611.97,17.80 L612.01,17.80 L612.05,17.80 L612.10,17.81 L612.15,17.81 L612.19,17.82 L612.24,17.82 L612.30,17.83 L612.35,17.83 L612.40,17.84 L612.46,17.84 L612.51,17.84 L612.57,17.85 L612.63,17.85 L612.69,17.86 L612.76,17.86 L612.82,17.87 L612.89,17.87 L612.95,17.87 L613.02,17.88 L613.09,17.88 L613.17,17.89 L613.24,17.89 L613.31,17.90 L613.39,17.90 L613.47,17.90 L613.55,17.91 L613.63,17.91 L613.72,17.92 L613.80,17.92 L613.89,17.93 L613.98,17.93 L614.07,17.94 L614.16,17.94 L614.26,17.94 L614.36,17.95 L614.45,17.95 L614.56,17.96 L614.66,17.96 L614.76,17.97 L614.87,17.97 L614.98,17.97 L615.09,17.98 L615.20,17.98 L615.31,17.99 L615.43,17.99 L615.55,18.00 L615.67,18.00 L615.79,18.00 L615.92,18.01 L616.05,18.01 L616.18,18.02 L616.31,18.02 L616.44,18.03 L616.58,18.03 L616.72,18.04 L616.86,18.04 L617.00,18.04 L617.14,18.05 L617.29,18.05 L617.44,18.06 L617.59,18.06 L617.75,18.07 L617.90,18.07 L618.06,18.07 L618.23,18.08 L618.39,18.08 L618.56,18.09 L618.73,18.09 L618.90,18.10 L619.07,18.10 L619.25,18.10 L619.43,18.11 L619.61,18.11 L619.79,18.12 L619.98,18.12 L620.17,18.13 L620.36,18.13 L620.56,18.14 L620.76,18.14 L620.96,18.14 L621.16,18.15 L621.37,18.15 L621.57,18.16 L621.79,18.16 L622.00,18.17 L622.22,18.17 L622.44,18.17 L622.66,18.18 L622.89,18.18 L623.11,18.19 L623.35,18.19 L623.58,18.20 L623.82,18.20 L624.06,18.21 L624.30,18.21 L624.55,18.21 L624.80,18.22 L625.05,18.22 L625.30,18.23 L625.56,18.23 L625.82,18.24 L626.09,18.24 L626.36,18.24 L626.63,18.25 L626.90,18.25 L627.18,18.26 L627.46,18.26 L627.74,18.27 L628.03,18.27 L628.32,18.27 L628.61,18.28 L628.91,18.28 L629.21,18.29 L629.51,18.29 L629.82,18.30 L630.13,18.30 L630.45,18.31 L630.76,18.31 L631.08,18.31 L631.41,18.32 L631.73,18.32 L632.07,18.33 L632.40,18.33 L632.74,18.34 L633.08,18.34 L633.42,18.34 L633.77,18.35 L634.12,18.35 L634.48,18.36 L634.84,18.36 L635.20,18.37 L635.57,18.37 L635.94,18.37 L636.31,18.38 L636.69,18.38 L637.07,18.39 L637.46,18.39 L637.85,18.40 L638.24,18.40 L638.64,18.41 L639.04,18.41 L639.44,18.41 L639.85,18.42 L640.26,18.42 L640.68,18.43 L641.10,18.43 L641.52,18.44 L641.95,18.44 L642.38,18.44 L642.82,18.45 L643.26,18.45 L643.70,18.46 L644.15,18.46 L644.60,18.47 L645.06,18.47 L645.52,18.47 L645.98,18.48 L646.45,18.48 L646.92,18.49 L647.40,18.49 L647.88,18.50 L648.37,18.50 L648.86,18.51 L649.35,18.51 L649.85,18.51 L650.35,18.52 L650.86,18.52 L651.37,18.53 L651.88,18.53 L652.40,18.54 L652.93,18.54 L653.46,18.54 L653.99,18.55 L654.53,18.55 L655.07,18.56 L655.61,18.56 L656.17,18.57 L656.72,18.57 L657.28,18.57 L657.84,18.58 L658.41,18.58 L658.99,18.59 L659.57,18.59 L660.15,18.60 L660.74,18.60 L661.33,18.61 L661.92,18.61 L662.53,18.61 L663.13,18.62 L663.74,18.62 L664.36,18.63 L664.98,18.63 L665.60,18.64 L666.23,18.64 L666.87,18.64 L667.51,18.65 L668.15,18.65 L668.80,18.66 L669.46,18.66 L670.12,18.67 L670.78,18.67 L671.45,18.67 L672.12,18.68 L672.80,18.68 L673.49,18.69 L674.18,18.69 L674.87,18.70 L675.57,18.70 L676.27,18.71 L676.98,18.71 L677.70,18.71 L678.42,18.72 L679.14,18.72 L679.87,18.73 L680.61,18.73 L681.35,18.74 L682.10,18.74 L682.85,18.74 L683.60,18.75 L684.36,18.75 L685.13,18.76 L685.90,18.76 L686.68,18.77 L687.46,18.77 L688.25,18.78 L689.05,18.78 L689.84,18.78 L690.65,18.79 L691.46,18.79 L692.27,18.80 L693.10,18.80 L693.92,18.81 L694.75,18.81 L695.59,18.81 L696.43,18.82 L697.28,18.82 L698.14,18.83 L699.00,18.83 L699.86,18.84 L700.73,18.84 L701.61,18.84 L702.49,18.85 L703.38,18.85 L704.28,18.86 L705.18,18.86 L706.08,18.87 L706.99,18.87 L707.91,18.88 L708.83,18.88 L709.76,18.88 L710.70,18.89 L711.64,18.89 L712.58,18.90 L713.54,18.90 L714.49,18.91 L715.46,18.91 L716.43,18.91 L717.40,18.92 L718.39,18.92 L719.37,18.93 L720.37,18.93 L721.37,18.94 L722.38,18.94 L723.39,18.94 L724.41,18.95 L725.43,18.95 L726.46,18.96 L727.50,18.96 L728.54,18.97 L729.59,18.97 L730.65,18.98 L731.71,18.98 L732.78,18.98 L733.85,18.99 L734.93,18.99 L736.02,19.00 L737.11,19.00 L738.21,19.01 L739.32,19.01 L740.43,19.01 L741.55,19.02 L742.68,19.02 L743.81,19.03 L744.95,19.03 L746.09,19.04 L747.24,19.04 L748.40,19.04 L749.57,19.05 L750.74,19.05 L751.91,19.06 L753.10,19.06 L754.29,19.07 L755.49,19.07 L756.69,19.08 L757.90,19.08 L759.12,19.08 L760.34,19.09 L761.57,19.09 L762.81,19.10 L764.06,19.10 L765.31,19.11 L766.57,19.11 L767.83,19.11 L769.10,19.12 L770.38,19.12 L771.67,19.13 L772.96,19.13 L774.26,19.14 L775.56,19.14 L776.88,19.14 L778.20,19.15 L779.52,19.15 L780.86,19.16 L782.20,19.16 L783.55,19.17 L784.90,19.17 L786.26,19.18 L787.63,19.18 L789.01,19.18 L790.39,19.19 L791.78,19.19 L793.18,19.20 L794.58,19.20 L796.00,19.21 L797.42,19.21 L798.84,19.21 L800.28,19.22 L801.72,19.22 L803.17,19.23 L804.62,19.23 L806.09,19.24 L807.56,19.24 L809.03,19.24 L810.52,19.25 L812.01,19.25 L813.51,19.26 L815.02,19.26 L816.53,19.27 L818.06,19.27 L819.59,19.28 L821.12,19.28 L822.67,19.28 L824.22,19.29 L825.78,19.29 L827.35,19.30 L828.93,19.30 L830.51,19.31 L832.10,19.31 L833.70,19.31 L835.30,19.32 L836.92,19.32 L838.54,19.33 L840.17,19.33 L841.80,19.34 L843.45,19.34 L845.10,19.35 L846.76,19.35 L848.43,19.35 L850.11,19.36 L851.79,19.36 L853.48,19.37 L855.18,19.37 L856.89,19.38 L858.60,19.38 L860.33,19.38 L862.06,19.39 L863.80,19.39 L865.55,19.40 L867.30,19.40 L869.06,19.41 L870.84,19.41 L872.62,19.41 L874.40,19.42 L876.20,19.42 L878.00,19.43 L879.82,19.43 L881.64,19.44 L883.47,19.44 L885.30,19.45 L887.15,19.45 L889.00,19.45 L890.86,19.46 L892.73,19.46 L894.61,19.47 L896.50,19.47 L898.39,19.48 L900.29,19.48 L902.21,19.48 L904.13,19.49 L906.06,19.49 L907.99,19.50 L909.94,19.50 L911.89,19.51 L913.85,19.51 L915.82,19.51 L917.80,19.52 L919.79,19.52 L921.79,19.53 L923.79,19.53 L925.81,19.54 L927.83,19.54 L929.86,19.55 L931.90,19.55 L933.95,19.55 L936.01,19.56 L938.07,19.56 L940.15,19.57 L942.23,19.57 L944.32,19.58 L946.42,19.58 L948.53,19.58 L950.65,19.59 L952.78,19.59 L954.91,19.60 L957.06,19.60 L959.21,19.61 L961.37,19.61 L963.55,19.61 L965.73,19.62 L967.92,19.62 L970.11,19.63 L972.32,19.63 L974.54,19.64 L976.76,19.64 L979.00,19.65 L981.24,19.65 L983.50,19.65 L985.76,19.66 L988.03,19.66 L990.31,19.67 L992.60,19.67" stroke="#d3212b"/>
</g>
<path d="M654.8,421.70 H713.6" stroke="#d3212b" stroke-width="3.2"/>
<path d="M654.8,456.00 H713.6" stroke="#7bad47" stroke-width="3.2"/>
<path d="M654.8,490.30 H713.6" stroke="#3c4fa5" stroke-width="3.2"/>
<rect x="790.7" y="106.9" width="184.10" height="218.90" fill="#fff" stroke="none"/>
<defs><clipPath id="cj"><rect x="790.7" y="104.9" width="186.10" height="220.90"/></clipPath></defs>
<g clip-path="url(#cj)" fill="none">
<path d="M790.70,156.15 L791.32,156.15 L791.93,156.15 L792.55,156.15 L793.16,156.15 L793.78,156.15 L794.39,156.15 L795.01,156.15 L795.63,156.15 L796.24,156.15 L796.86,156.15 L797.47,156.15 L798.09,156.15 L798.70,156.15 L799.32,156.15 L799.94,156.15 L800.55,156.15 L801.17,156.15 L801.78,156.15 L802.40,156.15 L803.01,156.15 L803.63,156.15 L804.25,156.15 L804.86,156.15 L805.48,156.15 L806.09,156.15 L806.71,156.15 L807.32,156.15 L807.94,156.15 L808.56,156.15 L809.17,156.15 L809.79,156.14 L810.40,156.14 L811.02,156.14 L811.63,156.14 L812.25,156.14 L812.87,156.14 L813.48,156.14 L814.10,156.14 L814.71,156.14 L815.33,156.14 L815.94,156.14 L816.56,156.14 L817.18,156.14 L817.79,156.14 L818.41,156.14 L819.02,156.14 L819.64,156.14 L820.25,156.13 L820.87,156.13 L821.49,156.13 L822.10,156.13 L822.72,156.13 L823.33,156.13 L823.95,156.13 L824.56,156.13 L825.18,156.13 L825.80,156.13 L826.41,156.12 L827.03,156.12 L827.64,156.12 L828.26,156.12 L828.87,156.12 L829.49,156.12 L830.11,156.11 L830.72,156.11 L831.34,156.11 L831.95,156.11 L832.57,156.11 L833.18,156.11 L833.80,156.10 L834.42,156.10 L835.03,156.10 L835.65,156.10 L836.26,156.09 L836.88,156.09 L837.49,156.09 L838.11,156.08 L838.73,156.08 L839.34,156.08 L839.96,156.07 L840.57,156.07 L841.19,156.07 L841.80,156.06 L842.42,156.06 L843.04,156.05 L843.65,156.05 L844.27,156.05 L844.88,156.04 L845.50,156.04 L846.11,156.03 L846.73,156.02 L847.35,156.02 L847.96,156.01 L848.58,156.01 L849.19,156.00 L849.81,155.99 L850.42,155.98 L851.04,155.98 L851.66,155.97 L852.27,155.96 L852.89,155.95 L853.50,155.94 L854.12,155.93 L854.73,155.92 L855.35,155.91 L855.97,155.90 L856.58,155.89 L857.20,155.88 L857.81,155.87 L858.43,155.85 L859.04,155.84 L859.66,155.82 L860.28,155.81 L860.89,155.79 L861.51,155.78 L862.12,155.76 L862.74,155.74 L863.35,155.72 L863.97,155.71 L864.59,155.68 L865.20,155.66 L865.82,155.64 L866.43,155.62 L867.05,155.59 L867.66,155.57 L868.28,155.54 L868.90,155.52 L869.51,155.49 L870.13,155.46 L870.74,155.43 L871.36,155.40 L871.97,155.36 L872.59,155.33 L873.21,155.29 L873.82,155.25 L874.44,155.21 L875.05,155.17 L875.67,155.13 L876.28,155.08 L876.90,155.04 L877.52,154.99 L878.13,154.94 L878.75,154.89 L879.36,154.83 L879.98,154.77 L880.59,154.72 L881.21,154.65 L881.83,154.59 L882.44,154.52 L883.06,154.45 L883.67,154.38 L884.29,154.31 L884.91,154.23 L885.52,154.15 L886.14,154.07 L886.75,153.98 L887.37,153.89 L887.98,153.80 L888.60,153.70 L889.22,153.60 L889.83,153.50 L890.45,153.39 L891.06,153.28 L891.68,153.17 L892.29,153.05 L892.91,152.93 L893.53,152.80 L894.14,152.67 L894.76,152.54 L895.37,152.40 L895.99,152.26 L896.60,152.11 L897.22,151.96 L897.84,151.80 L898.45,151.64 L899.07,151.48 L899.68,151.31 L900.30,151.13 L900.91,150.95 L901.53,150.77 L902.15,150.58 L902.76,150.39 L903.38,150.19 L903.99,149.98 L904.61,149.77 L905.22,149.56 L905.84,149.34 L906.46,149.12 L907.07,148.89 L907.69,148.65 L908.30,148.41 L908.92,148.17 L909.53,147.92 L910.15,147.67 L910.77,147.41 L911.38,147.14 L912.00,146.88 L912.61,146.60 L913.23,146.33 L913.84,146.04 L914.46,145.76 L915.08,145.46 L915.69,145.17 L916.31,144.87 L916.92,144.56 L917.54,144.25 L918.15,143.94 L918.77,143.62 L919.39,143.30 L920.00,142.98 L920.62,142.65 L921.23,142.32 L921.85,141.98 L922.46,141.64 L923.08,141.30 L923.70,140.95 L924.31,140.60 L924.93,140.24 L925.54,139.89 L926.16,139.53 L926.77,139.16 L927.39,138.80 L928.01,138.43 L928.62,138.06 L929.24,137.68 L929.85,137.31 L930.47,136.93 L931.08,136.55 L931.70,136.16 L932.32,135.78 L932.93,135.39 L933.55,135.00 L934.16,134.60 L934.78,134.21 L935.39,133.81 L936.01,133.41 L936.63,133.01 L937.24,132.61 L937.86,132.21 L938.47,131.80 L939.09,131.40 L939.70,130.99 L940.32,130.58 L940.94,130.17 L941.55,129.75 L942.17,129.34 L942.78,128.93 L943.40,128.51 L944.01,128.09 L944.63,127.67 L945.25,127.26 L945.86,126.83 L946.48,126.41 L947.09,125.99 L947.71,125.57 L948.32,125.14 L948.94,124.72 L949.56,124.29 L950.17,123.87 L950.79,123.44 L951.40,123.01 L952.02,122.58 L952.63,122.16 L953.25,121.73 L953.87,121.30 L954.48,120.87 L955.10,120.43 L955.71,120.00 L956.33,119.57 L956.94,119.14 L957.56,118.70 L958.18,118.27 L958.79,117.84 L959.41,117.40 L960.02,116.97 L960.64,116.53 L961.25,116.10 L961.87,115.66 L962.49,115.22 L963.10,114.79 L963.72,114.35 L964.33,113.91 L964.95,113.48 L965.56,113.04 L966.18,112.60 L966.80,112.16 L967.41,111.72 L968.03,111.28 L968.64,110.85 L969.26,110.41 L969.87,109.97 L970.49,109.53 L971.11,109.09 L971.72,108.65 L972.34,108.21 L972.95,107.77 L973.57,107.33 L974.18,106.89 L974.80,106.45" stroke="#3c4fa5" stroke-width="3"/>
<path d="M790.70,207.99 L791.32,207.99 L791.93,207.99 L792.55,207.99 L793.16,207.99 L793.78,207.99 L794.39,207.99 L795.01,207.99 L795.63,207.99 L796.24,207.99 L796.86,207.99 L797.47,207.99 L798.09,207.99 L798.70,207.99 L799.32,207.99 L799.94,207.99 L800.55,207.99 L801.17,207.99 L801.78,207.99 L802.40,207.99 L803.01,207.99 L803.63,207.99 L804.25,207.98 L804.86,207.98 L805.48,207.98 L806.09,207.98 L806.71,207.98 L807.32,207.98 L807.94,207.98 L808.56,207.98 L809.17,207.98 L809.79,207.98 L810.40,207.98 L811.02,207.98 L811.63,207.98 L812.25,207.98 L812.87,207.98 L813.48,207.98 L814.10,207.97 L814.71,207.97 L815.33,207.97 L815.94,207.97 L816.56,207.97 L817.18,207.97 L817.79,207.97 L818.41,207.97 L819.02,207.97 L819.64,207.96 L820.25,207.96 L820.87,207.96 L821.49,207.96 L822.10,207.96 L822.72,207.95 L823.33,207.95 L823.95,207.95 L824.56,207.95 L825.18,207.95 L825.80,207.94 L826.41,207.94 L827.03,207.94 L827.64,207.93 L828.26,207.93 L828.87,207.93 L829.49,207.92 L830.11,207.92 L830.72,207.91 L831.34,207.91 L831.95,207.91 L832.57,207.90 L833.18,207.89 L833.80,207.89 L834.42,207.88 L835.03,207.88 L835.65,207.87 L836.26,207.86 L836.88,207.86 L837.49,207.85 L838.11,207.84 L838.73,207.83 L839.34,207.82 L839.96,207.81 L840.57,207.80 L841.19,207.79 L841.80,207.78 L842.42,207.77 L843.04,207.76 L843.65,207.74 L844.27,207.73 L844.88,207.71 L845.50,207.70 L846.11,207.68 L846.73,207.66 L847.35,207.64 L847.96,207.62 L848.58,207.60 L849.19,207.58 L849.81,207.56 L850.42,207.53 L851.04,207.51 L851.66,207.48 L852.27,207.45 L852.89,207.42 L853.50,207.39 L854.12,207.36 L854.73,207.32 L855.35,207.28 L855.97,207.25 L856.58,207.20 L857.20,207.16 L857.81,207.12 L858.43,207.07 L859.04,207.02 L859.66,206.96 L860.28,206.91 L860.89,206.85 L861.51,206.79 L862.12,206.72 L862.74,206.66 L863.35,206.59 L863.97,206.51 L864.59,206.43 L865.20,206.35 L865.82,206.27 L866.43,206.18 L867.05,206.08 L867.66,205.99 L868.28,205.88 L868.90,205.78 L869.51,205.67 L870.13,205.55 L870.74,205.43 L871.36,205.31 L871.97,205.17 L872.59,205.04 L873.21,204.90 L873.82,204.75 L874.44,204.60 L875.05,204.44 L875.67,204.28 L876.28,204.11 L876.90,203.93 L877.52,203.75 L878.13,203.56 L878.75,203.37 L879.36,203.17 L879.98,202.96 L880.59,202.75 L881.21,202.53 L881.83,202.30 L882.44,202.07 L883.06,201.83 L883.67,201.59 L884.29,201.34 L884.91,201.09 L885.52,200.82 L886.14,200.56 L886.75,200.28 L887.37,200.00 L887.98,199.72 L888.60,199.42 L889.22,199.13 L889.83,198.83 L890.45,198.52 L891.06,198.21 L891.68,197.89 L892.29,197.56 L892.91,197.24 L893.53,196.90 L894.14,196.57 L894.76,196.22 L895.37,195.88 L895.99,195.53 L896.60,195.17 L897.22,194.82 L897.84,194.45 L898.45,194.09 L899.07,193.72 L899.68,193.35 L900.30,192.97 L900.91,192.59 L901.53,192.21 L902.15,191.82 L902.76,191.44 L903.38,191.04 L903.99,190.65 L904.61,190.26 L905.22,189.86 L905.84,189.46 L906.46,189.06 L907.07,188.65 L907.69,188.24 L908.30,187.84 L908.92,187.43 L909.53,187.02 L910.15,186.60 L910.77,186.19 L911.38,185.77 L912.00,185.35 L912.61,184.93 L913.23,184.51 L913.84,184.09 L914.46,183.67 L915.08,183.25 L915.69,182.82 L916.31,182.40 L916.92,181.97 L917.54,181.54 L918.15,181.11 L918.77,180.68 L919.39,180.25 L920.00,179.82 L920.62,179.39 L921.23,178.96 L921.85,178.53 L922.46,178.09 L923.08,177.66 L923.70,177.23 L924.31,176.79 L924.93,176.36 L925.54,175.92 L926.16,175.49 L926.77,175.05 L927.39,174.61 L928.01,174.18 L928.62,173.74 L929.24,173.30 L929.85,172.86 L930.47,172.42 L931.08,171.99 L931.70,171.55 L932.32,171.11 L932.93,170.67 L933.55,170.23 L934.16,169.79 L934.78,169.35 L935.39,168.91 L936.01,168.47 L936.63,168.03 L937.24,167.59 L937.86,167.15 L938.47,166.71 L939.09,166.26 L939.70,165.82 L940.32,165.38 L940.94,164.94 L941.55,164.50 L942.17,164.06 L942.78,163.62 L943.40,163.17 L944.01,162.73 L944.63,162.29 L945.25,161.85 L945.86,161.41 L946.48,160.96 L947.09,160.52 L947.71,160.08 L948.32,159.64 L948.94,159.19 L949.56,158.75 L950.17,158.31 L950.79,157.87 L951.40,157.42 L952.02,156.98 L952.63,156.54 L953.25,156.10 L953.87,155.65 L954.48,155.21 L955.10,154.77 L955.71,154.33 L956.33,153.88 L956.94,153.44 L957.56,153.00 L958.18,152.55 L958.79,152.11 L959.41,151.67 L960.02,151.23 L960.64,150.78 L961.25,150.34 L961.87,149.90 L962.49,149.45 L963.10,149.01 L963.72,148.57 L964.33,148.12 L964.95,147.68 L965.56,147.24 L966.18,146.79 L966.80,146.35 L967.41,145.91 L968.03,145.47 L968.64,145.02 L969.26,144.58 L969.87,144.14 L970.49,143.69 L971.11,143.25 L971.72,142.81 L972.34,142.36 L972.95,141.92 L973.57,141.48 L974.18,141.03 L974.80,140.59" stroke="#7bad47" stroke-width="3"/>
<path d="M790.70,312.26 L791.32,312.26 L791.93,312.26 L792.55,312.25 L793.16,312.25 L793.78,312.24 L794.39,312.24 L795.01,312.23 L795.63,312.22 L796.24,312.22 L796.86,312.21 L797.47,312.20 L798.09,312.19 L798.70,312.18 L799.32,312.17 L799.94,312.16 L800.55,312.15 L801.17,312.14 L801.78,312.13 L802.40,312.11 L803.01,312.10 L803.63,312.08 L804.25,312.07 L804.86,312.05 L805.48,312.03 L806.09,312.01 L806.71,311.99 L807.32,311.97 L807.94,311.94 L808.56,311.92 L809.17,311.89 L809.79,311.86 L810.40,311.83 L811.02,311.79 L811.63,311.76 L812.25,311.72 L812.87,311.68 L813.48,311.64 L814.10,311.59 L814.71,311.55 L815.33,311.49 L815.94,311.44 L816.56,311.38 L817.18,311.32 L817.79,311.26 L818.41,311.19 L819.02,311.12 L819.64,311.04 L820.25,310.96 L820.87,310.87 L821.49,310.78 L822.10,310.69 L822.72,310.59 L823.33,310.48 L823.95,310.37 L824.56,310.25 L825.18,310.13 L825.80,310.00 L826.41,309.86 L827.03,309.72 L827.64,309.57 L828.26,309.42 L828.87,309.26 L829.49,309.09 L830.11,308.91 L830.72,308.73 L831.34,308.54 L831.95,308.34 L832.57,308.13 L833.18,307.92 L833.80,307.70 L834.42,307.47 L835.03,307.24 L835.65,306.99 L836.26,306.74 L836.88,306.49 L837.49,306.22 L838.11,305.95 L838.73,305.67 L839.34,305.38 L839.96,305.09 L840.57,304.79 L841.19,304.48 L841.80,304.17 L842.42,303.85 L843.04,303.53 L843.65,303.20 L844.27,302.86 L844.88,302.52 L845.50,302.18 L846.11,301.82 L846.73,301.47 L847.35,301.11 L847.96,300.74 L848.58,300.37 L849.19,300.00 L849.81,299.62 L850.42,299.24 L851.04,298.86 L851.66,298.47 L852.27,298.08 L852.89,297.68 L853.50,297.28 L854.12,296.88 L854.73,296.48 L855.35,296.08 L855.97,295.67 L856.58,295.26 L857.20,294.85 L857.81,294.44 L858.43,294.02 L859.04,293.60 L859.66,293.18 L860.28,292.76 L860.89,292.34 L861.51,291.92 L862.12,291.50 L862.74,291.07 L863.35,290.64 L863.97,290.22 L864.59,289.79 L865.20,289.36 L865.82,288.93 L866.43,288.50 L867.05,288.07 L867.66,287.63 L868.28,287.20 L868.90,286.76 L869.51,286.33 L870.13,285.90 L870.74,285.46 L871.36,285.02 L871.97,284.59 L872.59,284.15 L873.21,283.71 L873.82,283.27 L874.44,282.84 L875.05,282.40 L875.67,281.96 L876.28,281.52 L876.90,281.08 L877.52,280.64 L878.13,280.20 L878.75,279.76 L879.36,279.32 L879.98,278.88 L880.59,278.44 L881.21,278.00 L881.83,277.56 L882.44,277.12 L883.06,276.67 L883.67,276.23 L884.29,275.79 L884.91,275.35 L885.52,274.91 L886.14,274.47 L886.75,274.02 L887.37,273.58 L887.98,273.14 L888.60,272.70 L889.22,272.26 L889.83,271.81 L890.45,271.37 L891.06,270.93 L891.68,270.49 L892.29,270.04 L892.91,269.60 L893.53,269.16 L894.14,268.72 L894.76,268.27 L895.37,267.83 L895.99,267.39 L896.60,266.94 L897.22,266.50 L897.84,266.06 L898.45,265.62 L899.07,265.17 L899.68,264.73 L900.30,264.29 L900.91,263.84 L901.53,263.40 L902.15,262.96 L902.76,262.51 L903.38,262.07 L903.99,261.63 L904.61,261.18 L905.22,260.74 L905.84,260.30 L906.46,259.86 L907.07,259.41 L907.69,258.97 L908.30,258.53 L908.92,258.08 L909.53,257.64 L910.15,257.20 L910.77,256.75 L911.38,256.31 L912.00,255.87 L912.61,255.42 L913.23,254.98 L913.84,254.54 L914.46,254.09 L915.08,253.65 L915.69,253.21 L916.31,252.76 L916.92,252.32 L917.54,251.88 L918.15,251.43 L918.77,250.99 L919.39,250.55 L920.00,250.10 L920.62,249.66 L921.23,249.22 L921.85,248.77 L922.46,248.33 L923.08,247.89 L923.70,247.44 L924.31,247.00 L924.93,246.56 L925.54,246.11 L926.16,245.67 L926.77,245.23 L927.39,244.78 L928.01,244.34 L928.62,243.90 L929.24,243.45 L929.85,243.01 L930.47,242.57 L931.08,242.12 L931.70,241.68 L932.32,241.24 L932.93,240.79 L933.55,240.35 L934.16,239.91 L934.78,239.47 L935.39,239.02 L936.01,238.58 L936.63,238.14 L937.24,237.69 L937.86,237.25 L938.47,236.81 L939.09,236.36 L939.70,235.92 L940.32,235.48 L940.94,235.03 L941.55,234.59 L942.17,234.15 L942.78,233.70 L943.40,233.26 L944.01,232.82 L944.63,232.37 L945.25,231.93 L945.86,231.49 L946.48,231.04 L947.09,230.60 L947.71,230.16 L948.32,229.71 L948.94,229.27 L949.56,228.83 L950.17,228.38 L950.79,227.94 L951.40,227.50 L952.02,227.05 L952.63,226.61 L953.25,226.17 L953.87,225.72 L954.48,225.28 L955.10,224.84 L955.71,224.39 L956.33,223.95 L956.94,223.51 L957.56,223.06 L958.18,222.62 L958.79,222.18 L959.41,221.73 L960.02,221.29 L960.64,220.85 L961.25,220.40 L961.87,219.96 L962.49,219.52 L963.10,219.07 L963.72,218.63 L964.33,218.19 L964.95,217.74 L965.56,217.30 L966.18,216.86 L966.80,216.41 L967.41,215.97 L968.03,215.53 L968.64,215.08 L969.26,214.64 L969.87,214.20 L970.49,213.75 L971.11,213.31 L971.72,212.87 L972.34,212.42 L972.95,211.98 L973.57,211.54 L974.18,211.09 L974.80,210.65" stroke="#d3212b" stroke-width="3"/>
<path d="M790.7,156.15 H916.6" stroke="#8b1e2b" stroke-width="3" stroke-dasharray="2.6 3.2"/>
<path d="M790.7,207.99 H890.6" stroke="#8b1e2b" stroke-width="3" stroke-dasharray="2.6 3.2"/>
<path d="M790.7,312.32 H843.8" stroke="#8b1e2b" stroke-width="3" stroke-dasharray="2.6 3.2"/>
<path d="M900.5,160.01 L974.8,106.51" stroke="#111" stroke-width="3" stroke-dasharray="12 11.6"/>
<path d="M871.7,214.82 L974.8,140.59" stroke="#111" stroke-width="3" stroke-dasharray="12 11.6"/>
<path d="M830.6,314.47 L974.8,210.65" stroke="#111" stroke-width="3" stroke-dasharray="12 11.6"/>
</g>
<path d="M811.67,325.8 V323.2 M811.67,106.9 V109.5 M832.65,325.8 V323.2 M832.65,106.9 V109.5 M853.62,325.8 V323.2 M853.62,106.9 V109.5 M874.59,325.8 V323.2 M874.59,106.9 V109.5 M895.56,325.8 V323.2 M895.56,106.9 V109.5 M916.54,325.8 V323.2 M916.54,106.9 V109.5 M937.51,325.8 V323.2 M937.51,106.9 V109.5 M958.48,325.8 V323.2 M958.48,106.9 V109.5 M790.7,323.05 H792.52 M974.8,323.05 H972.98 M790.7,320.02 H792.52 M974.8,320.02 H972.98 M790.7,317.39 H792.52 M974.8,317.39 H972.98 M790.7,315.07 H792.52 M974.8,315.07 H972.98 M790.7,313.00 H793.30 M974.8,313.00 H972.20 M790.7,299.36 H792.52 M974.8,299.36 H972.98 M790.7,291.39 H792.52 M974.8,291.39 H972.98 M790.7,285.73 H792.52 M974.8,285.73 H972.98 M790.7,281.34 H792.52 M974.8,281.34 H972.98 M790.7,277.75 H792.52 M974.8,277.75 H972.98 M790.7,274.72 H792.52 M974.8,274.72 H972.98 M790.7,272.09 H792.52 M974.8,272.09 H972.98 M790.7,269.77 H792.52 M974.8,269.77 H972.98 M790.7,267.70 H793.30 M974.8,267.70 H972.20 M790.7,254.06 H792.52 M974.8,254.06 H972.98 M790.7,246.09 H792.52 M974.8,246.09 H972.98 M790.7,240.43 H792.52 M974.8,240.43 H972.98 M790.7,236.04 H792.52 M974.8,236.04 H972.98 M790.7,232.45 H792.52 M974.8,232.45 H972.98 M790.7,229.42 H792.52 M974.8,229.42 H972.98 M790.7,226.79 H792.52 M974.8,226.79 H972.98 M790.7,224.47 H792.52 M974.8,224.47 H972.98 M790.7,222.40 H793.30 M974.8,222.40 H972.20 M790.7,208.76 H792.52 M974.8,208.76 H972.98 M790.7,200.79 H792.52 M974.8,200.79 H972.98 M790.7,195.13 H792.52 M974.8,195.13 H972.98 M790.7,190.74 H792.52 M974.8,190.74 H972.98 M790.7,187.15 H792.52 M974.8,187.15 H972.98 M790.7,184.12 H792.52 M974.8,184.12 H972.98 M790.7,181.49 H792.52 M974.8,181.49 H972.98 M790.7,179.17 H792.52 M974.8,179.17 H972.98 M790.7,177.10 H793.30 M974.8,177.10 H972.20 M790.7,163.46 H792.52 M974.8,163.46 H972.98 M790.7,155.49 H792.52 M974.8,155.49 H972.98 M790.7,149.83 H792.52 M974.8,149.83 H972.98 M790.7,145.44 H792.52 M974.8,145.44 H972.98 M790.7,141.85 H792.52 M974.8,141.85 H972.98 M790.7,138.82 H792.52 M974.8,138.82 H972.98 M790.7,136.19 H792.52 M974.8,136.19 H972.98 M790.7,133.87 H792.52 M974.8,133.87 H972.98 M790.7,131.80 H793.30 M974.8,131.80 H972.20 M790.7,118.16 H792.52 M974.8,118.16 H972.98 M790.7,110.19 H792.52 M974.8,110.19 H972.98" stroke="#2e2e2e" stroke-width="1.2" fill="none"/>
<rect x="790.7" y="106.9" width="184.10" height="218.90" fill="none" stroke="#2e2e2e" stroke-width="1.65"/>
<g transform="translate(81.18,27.42)"><text x="0" y="0" font-family="'Liberation Sans', Arial, Helvetica, sans-serif" font-size="32" fill="#262626" stroke="#262626" stroke-width="0.42">0</text></g>
<g transform="translate(44.20,142.55)"><text x="0" y="0" font-family="'Liberation Sans', Arial, Helvetica, sans-serif" font-size="32" fill="#262626" stroke="#262626" stroke-width="0.42">-0.2</text></g>
<g transform="translate(44.03,257.15)"><text x="0" y="0" font-family="'Liberation Sans', Arial, Helvetica, sans-serif" font-size="32" fill="#262626" stroke="#262626" stroke-width="0.42">-0.4</text></g>
<g transform="translate(44.28,372.10)"><text x="0" y="0" font-family="'Liberation Sans', Arial, Helvetica, sans-serif" font-size="32" fill="#262626" stroke="#262626" stroke-width="0.42">-0.6</text></g>
<g transform="translate(44.28,487.05)"><text x="0" y="0" font-family="'Liberation Sans', Arial, Helvetica, sans-serif" font-size="32" fill="#262626" stroke="#262626" stroke-width="0.42">-0.8</text></g>
<g transform="translate(100.48,574.95)"><text x="0" y="0" font-family="'Liberation Sans', Arial, Helvetica, sans-serif" font-size="32" fill="#262626" stroke="#262626" stroke-width="0.42">0</text></g>
<g transform="translate(284.38,575.00)"><text x="0" y="0" font-family="'Liberation Sans', Arial, Helvetica, sans-serif" font-size="32" fill="#262626" stroke="#262626" stroke-width="0.42">1</text></g>
<g transform="translate(471.62,575.78)"><text x="0" y="0" font-family="'Liberation Sans', Arial, Helvetica, sans-serif" font-size="32" fill="#262626" stroke="#262626" stroke-width="0.42">2</text></g>
<g transform="translate(583.12,30.35)"><text x="0" y="0" font-family="'Liberation Sans', Arial, Helvetica, sans-serif" font-size="32" fill="#262626" stroke="#262626" stroke-width="0.42">0</text></g>
<g transform="translate(528.65,159.05)"><text x="0" y="0" font-family="'Liberation Sans', Arial, Helvetica, sans-serif" font-size="32" fill="#262626" stroke="#262626" stroke-width="0.42">-0.01</text></g>
<g transform="translate(528.75,287.65)"><text x="0" y="0" font-family="'Liberation Sans', Arial, Helvetica, sans-serif" font-size="32" fill="#262626" stroke="#262626" stroke-width="0.42">-0.02</text></g>
<g transform="translate(528.55,416.35)"><text x="0" y="0" font-family="'Liberation Sans', Arial, Helvetica, sans-serif" font-size="32" fill="#262626" stroke="#262626" stroke-width="0.42">-0.03</text></g>
<g transform="translate(528.55,544.85)"><text x="0" y="0" font-family="'Liberation Sans', Arial, Helvetica, sans-serif" font-size="32" fill="#262626" stroke="#262626" stroke-width="0.42">-0.04</text></g>
<g transform="translate(601.62,575.40)"><text x="0" y="0" font-family="'Liberation Sans', Arial, Helvetica, sans-serif" font-size="32" fill="#262626" stroke="#262626" stroke-width="0.42">0</text></g>
<g transform="translate(728.70,575.52)"><text x="0" y="0" font-family="'Liberation Sans', Arial, Helvetica, sans-serif" font-size="32" fill="#262626" stroke="#262626" stroke-width="0.42">2</text></g>
<g transform="translate(856.15,575.40)"><text x="0" y="0" font-family="'Liberation Sans', Arial, Helvetica, sans-serif" font-size="32" fill="#262626" stroke="#262626" stroke-width="0.42">4</text></g>
<g transform="translate(983.10,575.40)"><text x="0" y="0" font-family="'Liberation Sans', Arial, Helvetica, sans-serif" font-size="32" fill="#262626" stroke="#262626" stroke-width="0.42">6</text></g>
<g transform="translate(-3.60,25.45)"><text x="0" y="0" font-family="'Liberation Sans', Arial, Helvetica, sans-serif" font-size="36" fill="#000" stroke="#000" stroke-width="0.47">(a)</text></g>
<g transform="translate(489.80,27.55)"><text x="0" y="0" font-family="'Liberation Sans', Arial, Helvetica, sans-serif" font-size="36" fill="#000" stroke="#000" stroke-width="0.47">(b)</text></g>
<g transform="translate(392.65,72.75)"><text x="0" y="0" font-family="'Liberation Sans', Arial, Helvetica, sans-serif" font-size="28" fill="#000" stroke="#000" stroke-width="0.36">U=4</text></g>
<g transform="translate(282.15,605.90)"><text x="0" y="0" font-family="'Liberation Serif', 'Times New Roman', serif" font-style="italic" font-size="35" fill="#262626">V</text></g>
<g transform="translate(786.65,607.80)"><text x="0" y="0" font-family="'Liberation Serif', 'Times New Roman', serif" font-style="italic" font-size="35" fill="#262626">U</text></g>
<g transform="translate(29.65,287.23)"><g transform="rotate(-90)"><text x="0" y="0" font-family="'Liberation Serif', 'Times New Roman', serif" font-style="italic" font-size="35" fill="#262626" transform="scale(1.1,1)">E</text></g></g>
<g transform="translate(34.95,265.12)"><g transform="rotate(-90)"><text x="0" y="0" font-family="'Liberation Serif', 'Times New Roman', serif" font-style="italic" font-size="26" fill="#262626" transform="scale(1.1,1)">C</text></g></g>
<g transform="translate(518.55,295.48)"><g transform="rotate(-90)"><text x="0" y="0" font-family="'Liberation Serif', 'Times New Roman', serif" font-style="italic" font-size="35" fill="#262626" transform="scale(1.1,1)">E</text></g></g>
<g transform="translate(524.05,273.42)"><g transform="rotate(-90)"><text x="0" y="0" font-family="'Liberation Serif', 'Times New Roman', serif" font-style="italic" font-size="26" fill="#262626" transform="scale(1.1,1)">C</text></g></g>
<g transform="translate(717.90,428.40)"><text x="0" y="0" font-family="'Liberation Serif', 'Times New Roman', serif" font-style="italic" font-size="29" fill="#000">V</text></g>
<g transform="translate(747.08,430.90)"><text x="0" y="0" font-family="'Liberation Serif', 'Times New Roman', serif" font-size="28" fill="#000" transform="scale(1.5,1)">=</text></g>
<g transform="translate(777.30,428.90)"><text x="0" y="0" font-family="'Liberation Serif', 'Times New Roman', serif" font-size="28" fill="#000">1</text></g>
<g transform="translate(717.90,462.70)"><text x="0" y="0" font-family="'Liberation Serif', 'Times New Roman', serif" font-style="italic" font-size="29" fill="#000">V</text></g>
<g transform="translate(747.08,465.20)"><text x="0" y="0" font-family="'Liberation Serif', 'Times New Roman', serif" font-size="28" fill="#000" transform="scale(1.5,1)">=</text></g>
<g transform="translate(777.30,462.70)"><text x="0" y="0" font-family="'Liberation Serif', 'Times New Roman', serif" font-size="28" fill="#000">1.5</text></g>
<g transform="translate(717.90,497.00)"><text x="0" y="0" font-family="'Liberation Serif', 'Times New Roman', serif" font-style="italic" font-size="29" fill="#000">V</text></g>
<g transform="translate(747.08,499.50)"><text x="0" y="0" font-family="'Liberation Serif', 'Times New Roman', serif" font-size="28" fill="#000" transform="scale(1.5,1)">=</text></g>
<g transform="translate(778.55,497.50)"><text x="0" y="0" font-family="'Liberation Serif', 'Times New Roman', serif" font-size="28" fill="#000">2</text></g>
<g transform="translate(172.50,295.05)"><text x="0" y="0" font-family="'Liberation Sans', Arial, Helvetica, sans-serif" font-size="24" fill="#262626" stroke="#262626" stroke-width="0.31">1</text></g>
<g transform="translate(142.90,358.01)"><text x="0" y="0" font-family="'Liberation Sans', Arial, Helvetica, sans-serif" font-size="24" fill="#262626" stroke="#262626" stroke-width="0.31">10</text></g>
<g transform="translate(169.25,347.46)"><text x="0" y="0" font-family="'Liberation Sans', Arial, Helvetica, sans-serif" font-size="18.5" fill="#262626" stroke="#262626" stroke-width="0.24">-3</text></g>
<g transform="translate(142.90,417.54)"><text x="0" y="0" font-family="'Liberation Sans', Arial, Helvetica, sans-serif" font-size="24" fill="#262626" stroke="#262626" stroke-width="0.31">10</text></g>
<g transform="translate(169.25,406.99)"><text x="0" y="0" font-family="'Liberation Sans', Arial, Helvetica, sans-serif" font-size="18.5" fill="#262626" stroke="#262626" stroke-width="0.24">-6</text></g>
<g transform="translate(142.90,477.08)"><text x="0" y="0" font-family="'Liberation Sans', Arial, Helvetica, sans-serif" font-size="24" fill="#262626" stroke="#262626" stroke-width="0.31">10</text></g>
<g transform="translate(169.25,466.52)"><text x="0" y="0" font-family="'Liberation Sans', Arial, Helvetica, sans-serif" font-size="18.5" fill="#262626" stroke="#262626" stroke-width="0.24">-9</text></g>
<g transform="translate(197.22,498.52)"><text x="0" y="0" font-family="'Liberation Sans', Arial, Helvetica, sans-serif" font-size="23" fill="#262626" stroke="#262626" stroke-width="0.30">0.1</text></g>
<g transform="translate(252.98,498.52)"><text x="0" y="0" font-family="'Liberation Sans', Arial, Helvetica, sans-serif" font-size="23" fill="#262626" stroke="#262626" stroke-width="0.30">0.4</text></g>
<g transform="translate(298.38,498.52)"><text x="0" y="0" font-family="'Liberation Sans', Arial, Helvetica, sans-serif" font-size="23" fill="#262626" stroke="#262626" stroke-width="0.30">1</text></g>
<g transform="translate(326.38,498.65)"><text x="0" y="0" font-family="'Liberation Sans', Arial, Helvetica, sans-serif" font-size="23" fill="#262626" stroke="#262626" stroke-width="0.30">2</text></g>
<g transform="translate(254.18,525.88)"><text x="0" y="0" font-family="'Liberation Serif', 'Times New Roman', serif" font-style="italic" font-size="28" fill="#262626">V</text></g>
<g transform="translate(140.25,407.67)"><g transform="rotate(-90)"><text x="0" y="0" font-family="'Liberation Serif', 'Times New Roman', serif" font-size="28" fill="#262626" transform="scale(1.25,1)">−</text></g></g>
<g transform="translate(138.02,386.75)"><g transform="rotate(-90)"><text x="0" y="0" font-family="'Liberation Serif', 'Times New Roman', serif" font-style="italic" font-size="28" fill="#262626" transform="scale(1.1,1)">E</text></g></g>
<g transform="translate(142.45,370.00)"><g transform="rotate(-90)"><text x="0" y="0" font-family="'Liberation Serif', 'Times New Roman', serif" font-style="italic" font-size="20" fill="#262626" transform="scale(1.1,1)">C</text></g></g>
<g transform="translate(737.90,145.28)"><text x="0" y="0" font-family="'Liberation Sans', Arial, Helvetica, sans-serif" font-size="24" fill="#262626" stroke="#262626" stroke-width="0.31">10</text></g>
<g transform="translate(764.25,133.43)"><text x="0" y="0" font-family="'Liberation Sans', Arial, Helvetica, sans-serif" font-size="18.5" fill="#262626" stroke="#262626" stroke-width="0.24">-2</text></g>
<g transform="translate(737.90,235.88)"><text x="0" y="0" font-family="'Liberation Sans', Arial, Helvetica, sans-serif" font-size="24" fill="#262626" stroke="#262626" stroke-width="0.31">10</text></g>
<g transform="translate(764.25,224.02)"><text x="0" y="0" font-family="'Liberation Sans', Arial, Helvetica, sans-serif" font-size="18.5" fill="#262626" stroke="#262626" stroke-width="0.24">-4</text></g>
<g transform="translate(737.90,326.48)"><text x="0" y="0" font-family="'Liberation Sans', Arial, Helvetica, sans-serif" font-size="24" fill="#262626" stroke="#262626" stroke-width="0.31">10</text></g>
<g transform="translate(764.25,314.62)"><text x="0" y="0" font-family="'Liberation Sans', Arial, Helvetica, sans-serif" font-size="18.5" fill="#262626" stroke="#262626" stroke-width="0.24">-6</text></g>
<g transform="translate(811.25,365.88)"><text x="0" y="0" font-family="'Liberation Sans', Arial, Helvetica, sans-serif" font-size="24" fill="#262626" stroke="#262626" stroke-width="0.31">10</text></g>
<g transform="translate(835.25,354.58)"><text x="0" y="0" font-family="'Liberation Sans', Arial, Helvetica, sans-serif" font-size="18.5" fill="#262626" stroke="#262626" stroke-width="0.24">-6</text></g>
<g transform="translate(874.25,365.88)"><text x="0" y="0" font-family="'Liberation Sans', Arial, Helvetica, sans-serif" font-size="24" fill="#262626" stroke="#262626" stroke-width="0.31">10</text></g>
<g transform="translate(898.25,354.58)"><text x="0" y="0" font-family="'Liberation Sans', Arial, Helvetica, sans-serif" font-size="18.5" fill="#262626" stroke="#262626" stroke-width="0.24">-3</text></g>
<g transform="translate(951.00,360.25)"><text x="0" y="0" font-family="'Liberation Sans', Arial, Helvetica, sans-serif" font-size="24" fill="#262626" stroke="#262626" stroke-width="0.31">1</text></g>
<g transform="translate(870.32,391.35)"><text x="0" y="0" font-family="'Liberation Serif', 'Times New Roman', serif" font-style="italic" font-size="28" fill="#262626">U</text></g>
<g transform="translate(733.25,243.08)"><g transform="rotate(-90)"><text x="0" y="0" font-family="'Liberation Serif', 'Times New Roman', serif" font-size="28" fill="#262626" transform="scale(1.25,1)">−</text></g></g>
<g transform="translate(730.82,222.15)"><g transform="rotate(-90)"><text x="0" y="0" font-family="'Liberation Serif', 'Times New Roman', serif" font-style="italic" font-size="28" fill="#262626" transform="scale(1.1,1)">E</text></g></g>
<g transform="translate(735.40,205.40)"><g transform="rotate(-90)"><text x="0" y="0" font-family="'Liberation Serif', 'Times New Roman', serif" font-style="italic" font-size="20" fill="#262626" transform="scale(1.1,1)">C</text></g></g>
</svg>
</body></html>
